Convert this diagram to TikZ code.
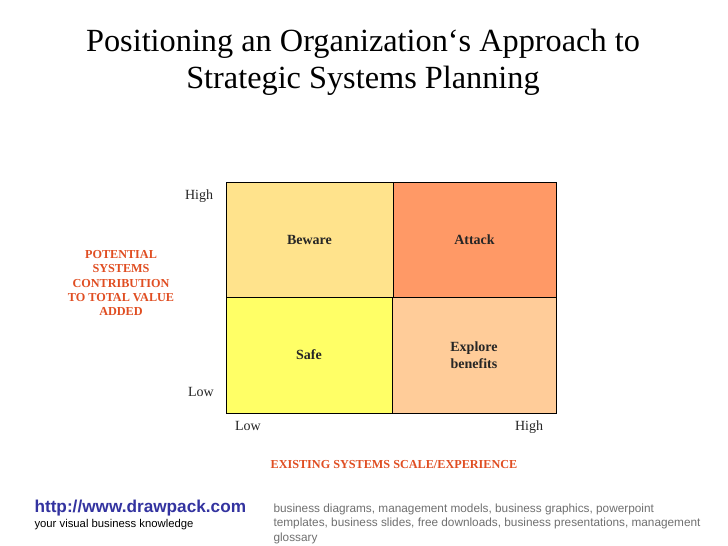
\documentclass[tikz,border=0pt]{standalone}
\usepackage{fontspec}
\setmainfont{Liberation Serif}
\newfontfamily\footfont{Liberation Sans}
\usepackage{xcolor}

\definecolor{axisred}{HTML}{E04E22}
\definecolor{bewarefill}{HTML}{FFE38C}
\definecolor{attackfill}{HTML}{FF9966}
\definecolor{safefill}{HTML}{FFFF66}
\definecolor{explorefill}{HTML}{FFCC99}
\definecolor{linkblue}{HTML}{3333A0}
\definecolor{footgray}{HTML}{707070}

\tikzset{
  quad/.style={draw=black, line width=0.9pt, inner sep=0pt, font=\fontsize{14}{16.5}\selectfont\bfseries,
    align=center, text=black!85},
  tick/.style={font=\fontsize{14}{16}\selectfont, text=black!85},
  axislabel/.style={font=\fontsize{12.2}{14.3}\selectfont\bfseries, text=axisred, align=center}
}

\begin{document}
\begin{tikzpicture}[x=1pt, y=-1pt]
  \useasboundingbox[fill=white] (0,0) rectangle (728,546);

  % title
  \node[align=center, font=\fontsize{32.3}{37}\selectfont] (title) at (363,62)
    {Positioning an Organization`s Approach to\\Strategic Systems Planning};

  % the four quadrants
  \node[quad, fill=bewarefill, minimum width=167pt, minimum height=115pt] (beware) at (309.5,239.5) {Beware};
  \node[quad, fill=attackfill, minimum width=163pt, minimum height=115pt] (attack) at (474.5,239.5) {Attack};
  \node[quad, fill=safefill, minimum width=166pt, minimum height=116pt] (safe) at (309,355) {Safe};
  \node[quad, fill=explorefill, minimum width=164pt, minimum height=116pt] (explore) at (474,355) {Explore\\benefits};

  % axis ticks
  \node[tick] (yhigh) at (199,196) {High};
  \node[tick] (ylow) at (201,392) {Low};
  \node[tick] (xlow) at (248,426) {Low};
  \node[tick] (xhigh) at (529,427) {High};

  % axis labels
  \node[axislabel] (ylabel) at (121,283)
    {POTENTIAL\\SYSTEMS\\CONTRIBUTION\\TO TOTAL VALUE\\ADDED};
  \node[axislabel] (xlabel) at (394,465) {EXISTING SYSTEMS SCALE/EXPERIENCE};

  % footer
  \node[anchor=west, font=\footfont\fontsize{17.2}{20}\selectfont\bfseries, text=linkblue] (link) at (31,508)
    {http://www.drawpack.com};
  \node[anchor=west, font=\footfont\fontsize{11.3}{13}\selectfont, text=black] (motto) at (31,525)
    {your visual business knowledge};
  \node[anchor=north west, align=left, font=\footfont\fontsize{11.8}{14.5}\selectfont, text=footgray] (tags) at (270,500)
    {business diagrams, management models, business graphics, powerpoint\\
     templates, business slides, free downloads, business presentations, management\\
     glossary};
\end{tikzpicture}
\end{document}
